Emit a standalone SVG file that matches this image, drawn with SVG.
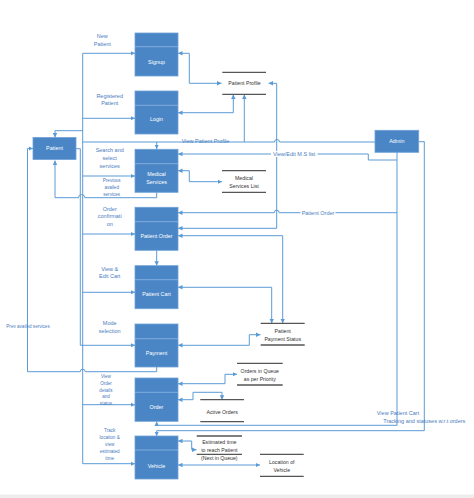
<svg xmlns="http://www.w3.org/2000/svg" width="474" height="498" viewBox="0 0 474 498">
<defs>
<marker id="a" viewBox="0 0 6 6" refX="6" refY="3" markerWidth="4.5" markerHeight="4.5" orient="auto-start-reverse" markerUnits="userSpaceOnUse"><path d="M0,0 L6,3 L0,6 z" fill="#5b9bd5"/></marker>
<style>
.box{fill:#4a86c6;stroke:#6fa1d8;stroke-width:0.8}
.dv{stroke:#8db6e2;stroke-width:0.8}
text{font-family:"Liberation Sans",Arial,sans-serif}
.bt{fill:#ffffff;font-size:5.4px;text-anchor:middle}
.lb{fill:#4a7cc0;font-size:5.5px;text-anchor:middle}
.sm{fill:#4a7cc0;font-size:4.6px;text-anchor:middle}
.ds{stroke:#555555;stroke-width:1.3}
.dt{fill:#333333;font-size:5.2px;text-anchor:middle}
.c{fill:none;stroke:#5b9bd5;stroke-width:1}
.e{marker-end:url(#a)}
.b{marker-start:url(#a);marker-end:url(#a)}
</style>
</defs>
<rect width="474" height="498" fill="#ffffff"/>
<rect y="494.5" width="474" height="3.5" fill="#ededed"/>

<g id="connectors">
<path class="c" d="M76,148.7 H80.3 V345.3"/>
<path class="c" d="M82.7,53.3 V463.7"/>
<path class="c e" d="M82.7,53.3 H135"/>
<path class="c e" d="M82.7,118.3 H135"/>
<path class="c e" d="M82.7,176 H135"/>
<path class="c e" d="M82.7,234 H135"/>
<path class="c e" d="M82.7,292.3 H135"/>
<path class="c e" d="M80.3,345.3 H135"/>
<path class="c e" d="M82.7,404.7 H135"/>
<path class="c e" d="M82.7,463.7 H135"/>
<path class="c e" d="M82.7,130.7 H55 V137.5"/>
<path class="c" d="M375,142 H279.5 A2.5,2.5 0 0 0 274.5,142 H82.7"/>
<path class="c e" d="M244.3,142 V94.5"/>
<path class="c e" d="M156.7,142 V149"/>
<path class="c e" d="M156.7,192.3 V197.7 H84.7 A3,3 0 0 0 78.5,197.7 H55 V160.5"/>
<path class="c e" d="M156.7,367 V371.7 H85.2 A2.5,2.5 0 0 0 80.2,371.7 H27.5 V148.5 H33"/>
<path class="c b" d="M178,53.3 H189.3 V83.3 H221.5"/>
<path class="c b" d="M178,112.7 H233.3 V94.5"/>
<path class="c b" d="M268.5,83.3 H276.7 V228.3 H178"/>
<path class="c e" d="M397,160 H368.3 V154 H178"/>
<path class="c e" d="M397,212.7 H279.2 A2.5,2.5 0 0 0 274.2,212.7 H178"/>
<path class="c e" d="M397,152 V425.3 H156.7 V421.5"/>
<path class="c e" d="M418.7,141.7 H424.3 V430.7 H156.7 V436"/>
<path class="c b" d="M178,170.7 H189.3 V181.7 H222"/>
<path class="c b" d="M178,235.7 H282.7 V323.3"/>
<path class="c e" d="M156.7,250.3 V265.7"/>
<path class="c b" d="M178,287.3 H271.7 V323.3"/>
<path class="c b" d="M178,345.3 H249.3 V334.7 H260.5"/>
<path class="c b" d="M178,383.7 H225 V374.3 H237"/>
<path class="c b" d="M178,399.7 H193 V392.3 H222 V399.7"/>
<path class="c b" d="M178,441 H191.7 V449.7 H196.5"/>
<path class="c b" d="M178,465 H260"/>
<rect x="271" y="151" width="46.5" height="6" fill="#ffffff"/>
<rect x="300.5" y="209.7" width="35" height="6" fill="#ffffff"/>
<text class="lb" x="205.5" y="143.3" font-size="5.3">View Patient Profile</text>
<text class="lb" x="294.2" y="156" font-size="5.3">View/Edit M.S list</text>
<text class="lb" x="318" y="214.6" font-size="5.3">Patient Order</text>
<text class="lb" x="398" y="414.5" font-size="5.2">View Patient Cart</text>
<text class="lb" x="424.3" y="422.5" font-size="5.2">Tracking and statuses w.r.t orders</text>
<text class="lb" x="102.3" y="37.7">New</text>
<text class="lb" x="102.3" y="45.7">Patient</text>
<text class="lb" x="109.7" y="98">Registered</text>
<text class="lb" x="109.7" y="105.3">Patient</text>
<text class="lb" x="109.7" y="152.3">Search and</text>
<text class="lb" x="109.7" y="160">select</text>
<text class="lb" x="109.7" y="167.7">services</text>
<text class="sm" x="111.7" y="182.3">Previous</text>
<text class="sm" x="111.7" y="189">availed</text>
<text class="sm" x="111.7" y="195.7">services</text>
<text class="lb" x="109.7" y="210.7">Order</text>
<text class="lb" x="109.7" y="218.3">confirmati</text>
<text class="lb" x="109.7" y="226.3">on</text>
<text class="lb" x="109.7" y="271">View &amp;</text>
<text class="lb" x="109.7" y="278.3">Edit Cart</text>
<text class="lb" x="109.7" y="325.3">Mode</text>
<text class="lb" x="109.7" y="333">selection</text>
<text class="sm" x="28" y="327.5" font-size="4.4">Prev availed services</text>
<text class="sm" x="106" y="377.5">View</text>
<text class="sm" x="106" y="384.5">Order</text>
<text class="sm" x="106" y="391.5">details</text>
<text class="sm" x="106" y="398">and</text>
<text class="sm" x="106" y="405">status</text>
<text class="sm" x="109.7" y="432">Track</text>
<text class="sm" x="109.7" y="439">location &amp;</text>
<text class="sm" x="109.7" y="445.7">view</text>
<text class="sm" x="109.7" y="452.5">estimated</text>
<text class="sm" x="109.7" y="459.5">time</text>
</g>

<g id="patient"><rect class="box" x="33" y="137.5" width="43" height="22"/><text class="bt" x="54.5" y="150.3">Patient</text></g>
<g id="admin"><rect class="box" x="375" y="130.3" width="43.7" height="22"/><text class="bt" x="396.8" y="143.3">Admin</text></g>

<g id="signup"><rect class="box" x="135" y="33" width="43" height="43"/><line class="dv" x1="135" y1="46.7" x2="178" y2="46.7"/><text class="bt" x="156.5" y="63.5">Signup</text></g>
<g id="login"><rect class="box" x="135" y="91" width="43" height="43"/><line class="dv" x1="135" y1="105.3" x2="178" y2="105.3"/><text class="bt" x="156.5" y="121">Login</text></g>
<g id="medical-services"><rect class="box" x="135" y="149.3" width="43" height="43"/><line class="dv" x1="135" y1="163.7" x2="178" y2="163.7"/><text class="bt" x="156.5" y="176">Medical</text><text class="bt" x="156.5" y="184">Services</text></g>
<g id="patient-order"><rect class="box" x="135" y="207.3" width="43" height="43"/><line class="dv" x1="135" y1="221.7" x2="178" y2="221.7"/><text class="bt" x="156.5" y="238">Patient Order</text></g>
<g id="patient-cart"><rect class="box" x="135" y="265.7" width="43" height="43"/><line class="dv" x1="135" y1="279.7" x2="178" y2="279.7"/><text class="bt" x="156.5" y="296.2">Patient Cart</text></g>
<g id="payment"><rect class="box" x="135" y="324" width="43" height="43"/><line class="dv" x1="135" y1="338.7" x2="178" y2="338.7"/><text class="bt" x="156.5" y="355">Payment</text></g>
<g id="order"><rect class="box" x="135" y="378" width="43" height="43.3"/><line class="dv" x1="135" y1="392.3" x2="178" y2="392.3"/><text class="bt" x="156.5" y="409.2">Order</text></g>
<g id="vehicle"><rect class="box" x="135" y="436" width="43" height="43"/><line class="dv" x1="135" y1="450" x2="178" y2="450"/><text class="bt" x="156.5" y="468">Vehicle</text></g>

<g id="patient-profile"><line class="ds" x1="222.3" y1="72.3" x2="266" y2="72.3"/><line class="ds" x1="222.3" y1="94.3" x2="266" y2="94.3"/><text class="dt" x="244.5" y="85.2">Patient Profile</text></g>
<g id="medical-services-list"><line class="ds" x1="222" y1="170.7" x2="266" y2="170.7"/><line class="ds" x1="222" y1="192.3" x2="266" y2="192.3"/><text class="dt" x="244" y="179.5">Medical</text><text class="dt" x="244" y="187.5">Services List</text></g>
<g id="patient-payment-status"><line class="ds" x1="260.7" y1="323.3" x2="304.7" y2="323.3"/><line class="ds" x1="260.7" y1="345" x2="304.7" y2="345"/><text class="dt" x="282.7" y="332.5">Patient</text><text class="dt" x="282.7" y="340.8">Payment Status</text></g>
<g id="orders-in-queue"><line class="ds" x1="237" y1="363.3" x2="282.7" y2="363.3"/><line class="ds" x1="237" y1="385" x2="282.7" y2="385"/><text class="dt" x="259.8" y="372.8">Orders in Queue</text><text class="dt" x="259.8" y="380.5">as per Priority</text></g>
<g id="active-orders"><line class="ds" x1="200.3" y1="399.7" x2="244" y2="399.7"/><line class="ds" x1="200.3" y1="421.7" x2="244" y2="421.7"/><text class="dt" x="222.2" y="413.5">Active Orders</text></g>
<g id="estimated-time"><line class="ds" x1="196.7" y1="436" x2="242" y2="436"/><line class="ds" x1="196.7" y1="454.3" x2="242" y2="454.3"/><text class="dt" x="219.3" y="443.8">Estimated time</text><text class="dt" x="219.3" y="451.8">to reach Patient</text><text class="dt" x="219.3" y="459.8">(Next in Queue)</text></g>
<g id="location-of-vehicle"><line class="ds" x1="260" y1="454.3" x2="303.7" y2="454.3"/><line class="ds" x1="260" y1="476.3" x2="303.7" y2="476.3"/><text class="dt" x="281.8" y="463.8">Location of</text><text class="dt" x="281.8" y="471.8">Vehicle</text></g>
</svg>
